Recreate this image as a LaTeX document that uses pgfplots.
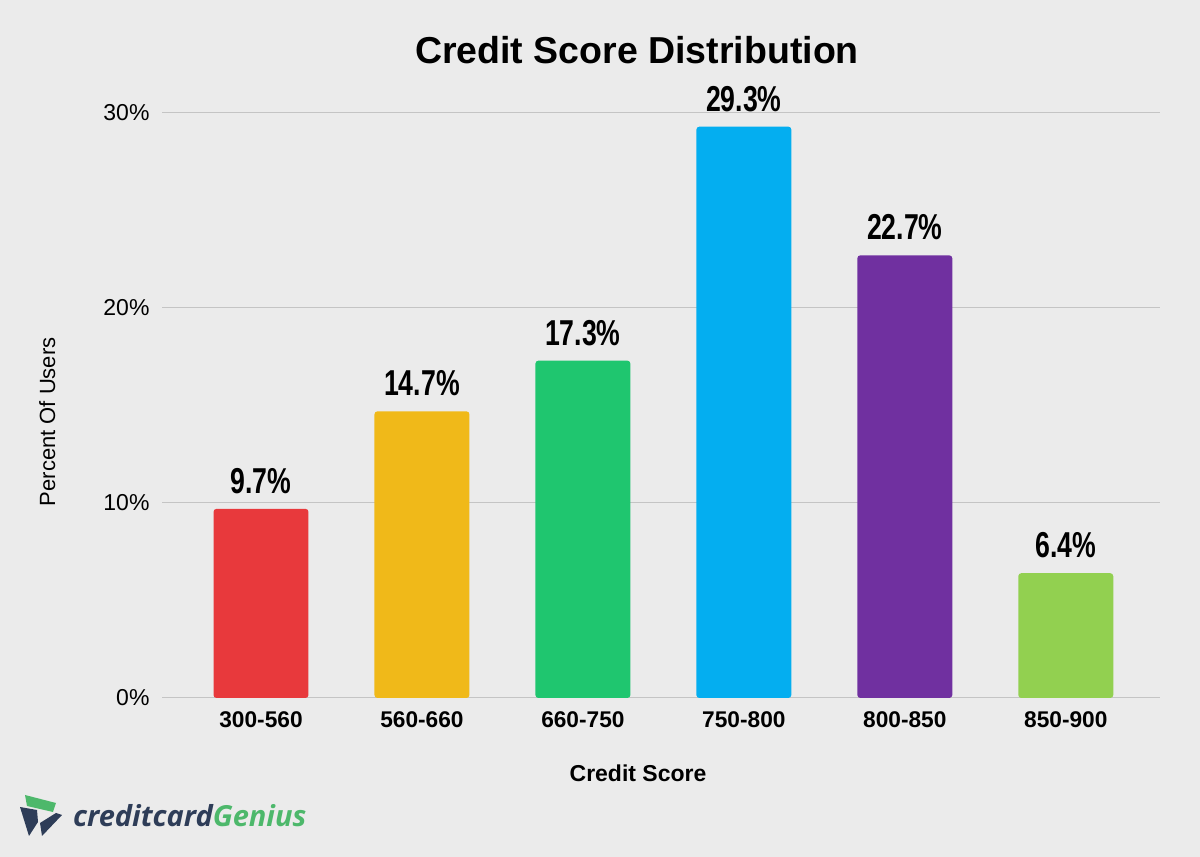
\documentclass[border=0pt]{standalone}
\usepackage{fontspec}
\setmainfont{Liberation Sans}
\newfontfamily\condfont[FakeStretch=0.74]{Liberation Sans}
\newfontfamily\logofont{Open Sans}
\usepackage{pgfplots}
\pgfplotsset{compat=1.18}
\definecolor{bg}{HTML}{EBEBEB}
\definecolor{gridc}{HTML}{C4C4C4}
\definecolor{cred}{HTML}{E8393C}
\definecolor{cyel}{HTML}{F0B919}
\definecolor{cgrn}{HTML}{1FC66F}
\definecolor{cblu}{HTML}{04AEF0}
\definecolor{cpur}{HTML}{7030A0}
\definecolor{clgr}{HTML}{92D050}
\definecolor{navy}{HTML}{2E3D58}
\definecolor{lgreen}{HTML}{4DB86B}
\begin{document}
\begin{tikzpicture}[x=1bp,y=1bp]
\fill[bg] (0,0) rectangle (1200,857);
% title
\node[font=\bfseries\fontsize{37.5bp}{42bp}\selectfont] at (637,807) {Credit Score Distribution};
\begin{axis}[
  at={(162bp,159bp)}, anchor=south west,
  scale only axis, width=998bp, height=585bp,
  xmin=-0.615, xmax=5.585, ymin=0, ymax=30,
  clip=false,
  axis line style={draw=none},
  tick style={draw=none},
  ymajorgrids, grid style={gridc, line width=1bp},
  ytick={0,10,20,30},
  yticklabel={\pgfmathprintnumber{\tick}\%},
  /pgf/number format/assume math mode=true,
  yticklabel style={font=\fontsize{23bp}{27bp}\selectfont, xshift=-9bp},
  xtick={0,1,2,3,4,5},
  xticklabels={300-560,560-660,660-750,750-800,800-850,850-900},
  xticklabel style={font=\bfseries\fontsize{22.7bp}{26bp}\selectfont, yshift=-6bp},
  ybar, bar width=0.59, bar shift=0pt,
  nodes near coords={\pgfmathprintnumber[fixed,precision=1,fixed zerofill]{\pgfplotspointmeta}\%},
  every node near coord/.append style={font=\condfont\bfseries\fontsize{36bp}{40bp}\selectfont, inner sep=0pt, anchor=south, yshift=15bp, text=black},
  xlabel={Credit Score},
  xlabel style={font=\bfseries\fontsize{23bp}{27bp}\selectfont, at={(axis description cs:0.477,0)}, anchor=center, yshift=-75bp},
  ylabel={Percent Of Users},
  ylabel style={font=\fontsize{22bp}{26bp}\selectfont, at={(axis description cs:-0.115,0.472)}, anchor=center},
]
\addplot[fill=cred, draw=none, rounded corners=3bp] coordinates {(0,9.7)};
\addplot[fill=cyel, draw=none, rounded corners=3bp] coordinates {(1,14.7)};
\addplot[fill=cgrn, draw=none, rounded corners=3bp] coordinates {(2,17.3)};
\addplot[fill=cblu, draw=none, rounded corners=3bp] coordinates {(3,29.3)};
\addplot[fill=cpur, draw=none, rounded corners=3bp] coordinates {(4,22.7)};
\addplot[fill=clgr, draw=none, rounded corners=3bp] coordinates {(5,6.4)};
\end{axis}
% logo
\fill[lgreen] (25,62) -- (56,54) -- (53,45) -- (27,51) -- cycle;
\fill[navy] (20,50) -- (37,47) -- (38,35) -- (29,21) -- cycle;
\fill[navy] (40,34) -- (56,44) -- (62,42) -- (42,21) -- cycle;
\node[anchor=base west, inner sep=0pt, font=\logofont\bfseries\itshape\fontsize{29bp}{33bp}\selectfont] at (73,30) {\textcolor{navy}{creditcard}\textcolor{lgreen}{Genius}};
\end{tikzpicture}
\end{document}
